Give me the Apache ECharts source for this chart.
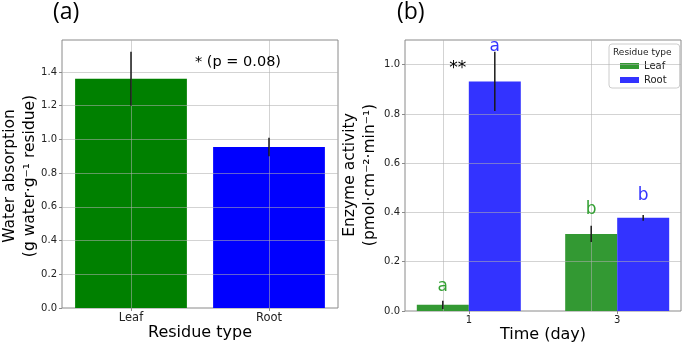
<!DOCTYPE html>
<html>
<head>
    <meta charset="utf-8">
    <title>Residue type</title>
    <script src="https://cdn.jsdelivr.net/npm/echarts@6/dist/echarts.min.js"></script>
    <style>html, body { margin: 0; padding: 0; background: #fff; }</style>
</head>
<body>
<div id="main" style="width: 685px;height:343px;"></div>
<script type="text/javascript">
    // (a) water absorption
    const residueTypes = ['Leaf', 'Root'];
    const waterMean = [1.36, 0.955];
    const waterErr = [0.16, 0.055];
    const waterColors = ['#008000', '#0000ff'];
    const waterTicks = [0.2, 0.4, 0.6, 0.8, 1.0, 1.2, 1.4];

    // (b) enzyme activity
    const days = [1, 3];
    const leafMean = [0.025, 0.313];
    const leafErr = [0.017, 0.033];
    const rootMean = [0.932, 0.378];
    const rootErr = [0.12, 0.012];
    const leafLetters = ['a', 'b'];
    const rootLetters = ['a', 'b'];
    const leafLetterY = [0.10, 0.41];
    const rootLetterY = [1.075, 0.47];
    const starText = ['**'];
    const starPos = [[0.85, 0.985]];
    const enzymeTicks = [0.2, 0.4, 0.6, 0.8, 1.0];

    const FONT = 'DejaVu Sans';
    const gridColor = 'rgba(175,175,175,0.55)';
    const frameColor = '#8a8a8a';
    const barW = 52;

    let myChart = echarts.init(document.getElementById('main'));

    // black error bar, offset in pixels from the category/value position
    function errorBar(params, api) {
        const x = api.coord([api.value(0), api.value(1)])[0] + api.value(3) * barW / 2;
        const top = api.coord([api.value(0), api.value(1) + api.value(2)])[1];
        const bot = api.coord([api.value(0), api.value(1) - api.value(2)])[1];
        return {
            type: 'line',
            shape: { x1: x, y1: top, x2: x, y2: bot },
            style: { stroke: '#1a1a1a', lineWidth: 1.5 }
        };
    }

    // significance letters, placed on the chart scale
    function letter(color, texts) {
        return function (params, api) {
            const p = api.coord([api.value(0), api.value(1)]);
            return {
                type: 'text',
                x: p[0] + api.value(2) * barW / 2,
                y: p[1],
                style: {
                    text: texts[params.dataIndex], fill: color, font: '17px "DejaVu Sans"',
                    align: 'center', verticalAlign: 'middle'
                }
            };
        };
    }

    function gridMarks(hVals, vVals) {
        return {
            silent: true, symbol: ['none', 'none'], z: 4, animation: false,
            label: { show: false },
            lineStyle: { type: 'solid', color: gridColor, width: 1 },
            emphasis: { disabled: true },
            data: hVals.map(v => ({ yAxis: v })).concat(vVals.map(v => ({ xAxis: v })))
        };
    }

    myChart.setOption({
        animation: false,
        title: [
            { text: '(a)', left: 53, top: 1, padding: 0, textStyle: { fontFamily: 'Open Sans', fontSize: 23, fontWeight: 'normal', color: '#000' } },
            { text: '(b)', left: 397, top: 1, padding: 0, textStyle: { fontFamily: 'Open Sans', fontSize: 23, fontWeight: 'normal', color: '#000' } },
            { text: '* (p = 0.08)', left: 195, top: 55, padding: 0, textStyle: { fontFamily: FONT, fontSize: 14.5, fontWeight: 'normal', color: '#000' } },
            { text: 'Residue type', left: 613, top: 48, padding: 0, textStyle: { fontFamily: FONT, fontSize: 9, fontWeight: 'normal', color: '#222' } }
        ],
        legend: {
            data: ['Leaf', 'Root'],
            orient: 'vertical',
            left: 609, top: 44,
            padding: [17, 13, 3, 11],
            itemWidth: 19, itemHeight: 6, itemGap: 4,
            icon: 'rect',
            backgroundColor: '#fff',
            borderColor: '#cccccc', borderWidth: 1, borderRadius: 3,
            textStyle: { fontFamily: FONT, fontSize: 10, color: '#222' }
        },
        graphic: [
            {
                type: 'text', x: 20, y: 176, rotation: Math.PI / 2,
                style: {
                    text: 'Water absorption\n(g water·g⁻¹ residue)', font: '15.5px "DejaVu Sans"',
                    fill: '#000', align: 'center', verticalAlign: 'middle', lineHeight: 20
                }
            },
            {
                type: 'text', x: 360, y: 175, rotation: Math.PI / 2,
                style: {
                    text: 'Enzyme activity\n(pmol·cm⁻²·min⁻¹)', font: '15.5px "DejaVu Sans"',
                    fill: '#000', align: 'center', verticalAlign: 'middle', lineHeight: 20
                }
            }
        ],
        grid: [
            { left: 62, top: 40, width: 276, height: 268, outerBoundsMode: 'none', show: true, borderColor: frameColor, borderWidth: 1 },
            { left: 405, top: 40, width: 276, height: 271, outerBoundsMode: 'none', show: true, borderColor: frameColor, borderWidth: 1 }
        ],
        xAxis: [
            {
                gridIndex: 0, type: 'category', data: residueTypes,
                name: 'Residue type', nameLocation: 'middle', nameGap: 17, nameMoveOverlap: false,
                nameTextStyle: { fontFamily: FONT, fontSize: 16, color: '#000', verticalAlign: 'top' },
                axisLine: { show: false },
                axisTick: { show: true, alignWithLabel: true, length: 3, lineStyle: { color: frameColor } },
                axisLabel: { fontFamily: FONT, fontSize: 11.5, color: '#222', margin: 4 },
                splitLine: { show: false }
            },
            {
                gridIndex: 1, type: 'value', min: 0.14, max: 3.86,
                name: 'Time (day)', nameLocation: 'middle', nameGap: 16, nameMoveOverlap: false,
                nameTextStyle: { fontFamily: FONT, fontSize: 16, color: '#000', verticalAlign: 'top' },
                axisLine: { show: false },
                axisTick: { show: true, length: 3, customValues: days, lineStyle: { color: frameColor } },
                axisLabel: { fontFamily: FONT, fontSize: 10, color: '#222', margin: 4, customValues: days },
                splitLine: { show: false }
            }
        ],
        yAxis: [
            {
                gridIndex: 0, type: 'value', min: 0, max: 1.59, interval: 0.2,
                axisLine: { show: false },
                axisTick: { show: true, length: 3, lineStyle: { color: frameColor } },
                axisLabel: { fontFamily: FONT, fontSize: 10, color: '#222', margin: 5, showMaxLabel: false,
                    formatter: v => v.toFixed(1) },
                splitLine: { show: false }
            },
            {
                gridIndex: 1, type: 'value', min: 0, max: 1.1, interval: 0.2,
                axisLine: { show: false },
                axisTick: { show: true, length: 3, lineStyle: { color: frameColor } },
                axisLabel: { fontFamily: FONT, fontSize: 10, color: '#222', margin: 5, showMaxLabel: false,
                    formatter: v => v.toFixed(1) },
                splitLine: { show: false }
            }
        ],
        series: [
            {
                name: 'water', type: 'bar', xAxisIndex: 0, yAxisIndex: 0,
                barWidth: '81%',
                data: waterMean.map((v, i) => ({ value: v, itemStyle: { color: waterColors[i] } })),
                markLine: gridMarks(waterTicks, residueTypes)
            },
            {
                type: 'custom', xAxisIndex: 0, yAxisIndex: 0, z: 6,
                renderItem: errorBar,
                data: waterMean.map((v, i) => [i, v, waterErr[i], 0])
            },
            {
                name: 'Leaf', type: 'bar', xAxisIndex: 1, yAxisIndex: 1,
                barWidth: barW, barGap: 0,
                itemStyle: { color: '#339933' },
                data: days.map((d, i) => [d, leafMean[i]]),
                markLine: gridMarks(enzymeTicks, days)
            },
            {
                name: 'Root', type: 'bar', xAxisIndex: 1, yAxisIndex: 1,
                barWidth: barW, barGap: 0,
                itemStyle: { color: '#3333ff' },
                data: days.map((d, i) => [d, rootMean[i]])
            },
            {
                type: 'custom', xAxisIndex: 1, yAxisIndex: 1, z: 6,
                renderItem: errorBar,
                data: days.map((d, i) => [d, leafMean[i], leafErr[i], -1])
                    .concat(days.map((d, i) => [d, rootMean[i], rootErr[i], 1]))
            },
            {
                type: 'custom', xAxisIndex: 1, yAxisIndex: 1, z: 6,
                renderItem: letter('#33a033', leafLetters),
                data: days.map((d, i) => [d, leafLetterY[i], -1])
            },
            {
                type: 'custom', xAxisIndex: 1, yAxisIndex: 1, z: 6,
                renderItem: letter('#3333ff', rootLetters),
                data: days.map((d, i) => [d, rootLetterY[i], 1])
            },
            {
                type: 'custom', xAxisIndex: 1, yAxisIndex: 1, z: 6,
                renderItem: letter('#000000', starText),
                data: starPos.map(p => [p[0], p[1], 0])
            }
        ]
    });
</script>
</body>
</html>
